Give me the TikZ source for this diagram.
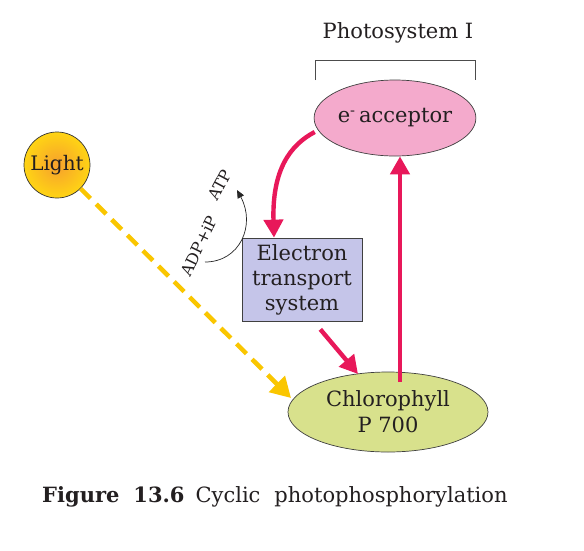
\documentclass[tikz,border=0pt]{standalone}
\usepackage{fontspec}
\setmainfont{DejaVu Serif}
\usetikzlibrary{arrows.meta,shapes.geometric,calc}
\definecolor{redarrow}{RGB}{232,24,90}
\definecolor{sunyellow}{RGB}{250,198,0}
\definecolor{pinkfill}{RGB}{244,170,204}
\definecolor{lavfill}{RGB}{197,197,233}
\definecolor{greenfill}{RGB}{216,225,140}
\definecolor{lightin}{RGB}{246,160,45}
\definecolor{lightout}{RGB}{255,212,20}
\definecolor{textcol}{RGB}{35,31,32}
\tikzset{
  lbl/.style={font=\fontsize{21}{25}\selectfont, text=textcol, align=center},
  redarr/.style={draw=redarrow, line width=4.4pt, -{Triangle[length=18pt,width=19pt]}},
  ellnode/.style={ellipse, draw=black!75, line width=0.7pt, inner sep=0pt},
}
\begin{document}
\begin{tikzpicture}[x=1pt,y=-1pt]
\useasboundingbox[fill=white] (0,0) rectangle (584,550);
% Photosystem I label and bracket
\node[lbl] (ps) at (398,33) {Photosystem I};
\coordinate (bl) at (315,80);
\coordinate (br) at (475,80);
\draw[black!70, line width=0.8pt] (bl) -- ++(0,-20) -| (br);
% nodes
\node[ellnode, fill=pinkfill, minimum width=144pt, minimum height=76pt, lbl] (acc) at (395,118) {e\textsuperscript{-}\,acceptor};
\node[draw=black!75, line width=0.7pt, fill=lavfill, minimum width=120pt, minimum height=83pt, inner sep=0pt, lbl, font=\fontsize{21}{25}\selectfont] (ets) at (302,279.5) {Electron\\transport\\system};
\node[ellnode, fill=greenfill, minimum width=200pt, minimum height=80pt, lbl, font=\fontsize{21}{26}\selectfont] (chl) at (388,412) {Chlorophyll\\P 700};
\node[circle, draw=black!80, line width=0.7pt, inner color=lightin, outer color=lightout, minimum size=66pt, inner sep=0pt, lbl, font=\fontsize{20}{24}\selectfont] (light) at (57,165) {Light};
% yellow dashed arrow
\coordinate (ytip) at (291,398);
\draw[sunyellow, line width=4.5pt, dash pattern=on 14pt off 8pt, -{Triangle[length=20pt,width=22pt]}] (light.-45) -- (ytip);
% red arrows
\draw[redarr] (400,382) -- (acc.south -| 400,0);
\draw[redarr] (acc.west |- 0,132) ++(1,0) .. controls (290,145) and (272,170) .. (ets.north -| 274,0);
\draw[redarr] ($(ets.south east)+(-42,8)$) -- (358,374);
% ATP arc
\coordinate (adpstart) at (205,262);
\coordinate (atptip) at (237,190);
\draw[black!85, line width=0.7pt, -{Triangle[length=8pt,width=7pt]}] (adpstart) .. controls (240,262) and (256,225) .. (atptip);
\node[lbl, font=\fontsize{16}{18}\selectfont, rotate=64] (adp) at (199,246) {ADP+iP};
\node[lbl, font=\fontsize{16}{18}\selectfont, rotate=62] (atp) at (220,185) {ATP};
% caption
\node[anchor=west, font=\fontsize{21}{25}\selectfont, text=textcol, inner sep=0pt] (cap) at (42,497) {\textbf{Figure\hspace{14pt}13.6}\hspace{11pt}Cyclic\hspace{14pt}photophosphorylation};
\end{tikzpicture}
\end{document}
